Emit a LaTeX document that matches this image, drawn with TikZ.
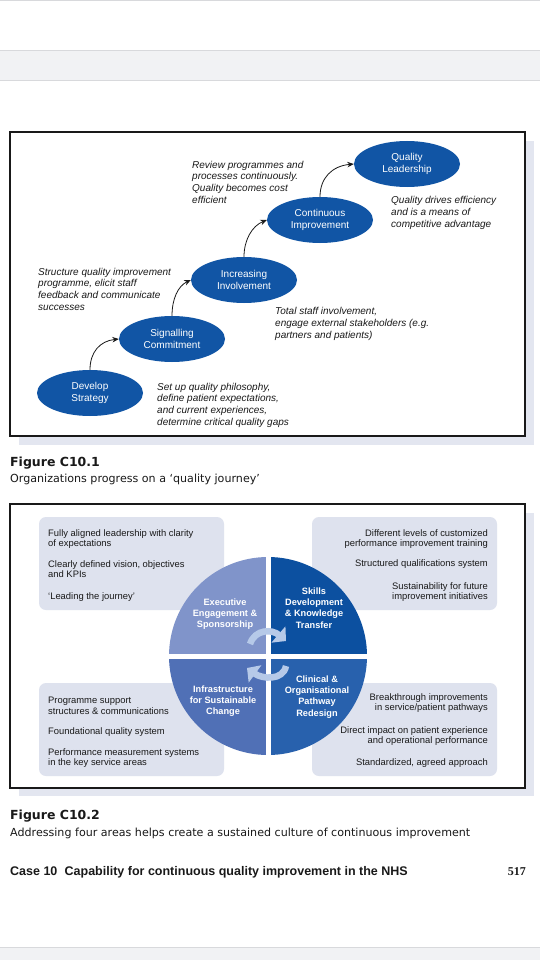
\documentclass[tikz,border=0pt]{standalone}
\usepackage{fontspec}
\setmainfont{Liberation Sans}
\newfontfamily\capfont{DejaVu Sans}
\newfontfamily\numfont{Liberation Serif}
\usetikzlibrary{shapes.geometric,arrows.meta}
\definecolor{stageblue}{RGB}{17,85,165}
\definecolor{qa}{RGB}{128,148,202}
\definecolor{qb}{RGB}{12,80,160}
\definecolor{qc}{RGB}{80,112,182}
\definecolor{qd}{RGB}{40,97,173}
\definecolor{infofill}{RGB}{222,226,238}
\definecolor{shadowc}{RGB}{227,230,240}
\definecolor{pagegray}{RGB}{241,242,244}
\definecolor{lineg}{RGB}{216,217,220}
\definecolor{arrowblue}{RGB}{182,201,232}
\definecolor{ink}{RGB}{25,25,25}
\begin{document}
\begin{tikzpicture}[x=1pt,y=-1pt,
  stage/.style={ellipse, fill=stageblue, text=white, minimum width=106pt,
    minimum height=46pt, inner sep=0pt, align=center,
    font=\fontsize{10}{11.5}\selectfont},
  note/.style={anchor=west, align=left, inner sep=0pt, text=ink,
    font=\fontsize{10}{11.7}\selectfont\itshape},
  journey/.style={-{Stealth[length=6.5pt,width=5.5pt]}, line width=0.8pt, ink},
  frame/.style={draw=ink, line width=1.2pt, fill=white},
  infobox/.style={fill=infofill, rounded corners=7pt},
  infol/.style={anchor=west, align=left, inner sep=0pt, text=ink,
    font=\fontsize{9.4}{10.6}\selectfont},
  infor/.style={anchor=east, align=right, inner sep=0pt, text=ink,
    font=\fontsize{9.4}{10.6}\selectfont},
  quadtext/.style={align=center, inner sep=0pt, text=white,
    font=\bfseries\fontsize{9.2}{11.2}\selectfont},
  loop/.style={arrowblue, line width=6.5pt, -{Triangle[length=10pt,width=21pt]}},
  capbold/.style={anchor=west, inner sep=0pt, text=ink,
    font=\capfont\bfseries\fontsize{12.5}{14}\selectfont},
  capline/.style={anchor=west, inner sep=0pt, text=ink,
    font=\capfont\fontsize{11.1}{13}\selectfont}
]
\useasboundingbox (0,0) rectangle (540,960);
% page background
\fill[white] (0,0) rectangle (540,960);
\draw[lineg, line width=1pt] (0,0.5) -- (540,0.5);
\fill[pagegray] (0,51) rectangle (540,81);
\draw[lineg, line width=1pt] (0,51) -- (540,51);
\draw[lineg, line width=1pt] (0,81) -- (540,81);
\fill[pagegray] (0,947) rectangle (540,960);
\draw[lineg, line width=1pt] (0,947) -- (540,947);

% ---------- Figure C10.1 ----------
\fill[shadowc] (19,141) rectangle (534,445);
\draw[frame] (10,132) rectangle (525,436);

\node[stage] (dev)  at (90,393)  {Develop\\Strategy};
\node[stage] (sig)  at (172,339) {Signalling\\Commitment};
\node[stage] (inc)  at (244,280) {Increasing\\Involvement};
\node[stage] (cont) at (320,220) {Continuous\\Improvement};
\node[stage] (qual) at (407,164) {Quality\\Leadership};

\draw[journey] (dev.north)  .. controls (90,352) and (100,341) .. (sig.west);
\draw[journey] (sig.north)  .. controls (172,299) and (178,286) .. (inc.west);
\draw[journey] (inc.north)  .. controls (244,240) and (252,226) .. (cont.west);
\draw[journey] (cont.north) .. controls (320,178) and (332,166) .. (qual.west);

\node[note] (n1) at (192,182) {Review programmes and\\processes continuously.\\Quality becomes cost\\efficient};
\node[note] (n2) at (391,213) {Quality drives efficiency\\and is a means of\\competitive advantage};
\node[note] (n3) at (38,289) {Structure quality improvement\\programme, elicit staff\\feedback and communicate\\successes};
\node[note] (n4) at (275,324) {Total staff involvement,\\engage external stakeholders (e.g.\\partners and patients)};
\node[note] (n5) at (157,405) {Set up quality philosophy,\\define patient expectations,\\and current experiences,\\determine critical quality gaps};

\node[capbold] (cap1) at (10,463) {Figure C10.1};
\node[capline] (cap1b) at (10,479) {Organizations progress on a ‘quality journey’};

% ---------- Figure C10.2 ----------
\fill[shadowc] (19,513) rectangle (534,796);
\draw[frame] (10,504) rectangle (525,788);

\fill[infobox] (39,517) rectangle (224,610);
\fill[infobox] (312,517) rectangle (497,610);
\fill[infobox] (39,683) rectangle (224,776);
\fill[infobox] (312,683) rectangle (497,776);

\node[infol] (tl1) at (48,539) {Fully aligned leadership with clarity\\of expectations};
\node[infol] (tl2) at (48,569) {Clearly defined vision, objectives\\and KPIs};
\node[infol] (tl3) at (48,597) {‘Leading the journey’};

\node[infor] (tr1) at (488,539) {Different levels of customized\\performance improvement training};
\node[infor] (tr2) at (488,564) {Structured qualifications system};
\node[infor] (tr3) at (488,592) {Sustainability for future\\improvement initiatives};

\node[infol] (bl1) at (48,706) {Programme support\\structures \& communications};
\node[infol] (bl2) at (48,732) {Foundational quality system};
\node[infol] (bl3) at (48,758) {Performance measurement systems\\in the key service areas};

\node[infor] (br1) at (488,703) {Breakthrough improvements\\in service/patient pathways};
\node[infor] (br2) at (488,736) {Direct impact on patient experience\\and operational performance};
\node[infor] (br3) at (488,763) {Standardized, agreed approach};

% quadrant wheel
\fill[qa] (268,656) -- (169,656) arc[start angle=180, end angle=270, radius=99] -- cycle;
\fill[qb] (268,656) -- (268,557) arc[start angle=270, end angle=360, radius=99] -- cycle;
\fill[qd] (268,656) -- (367,656) arc[start angle=0, end angle=90, radius=99] -- cycle;
\fill[qc] (268,656) -- (268,755) arc[start angle=90, end angle=180, radius=99] -- cycle;
\draw[white, line width=5pt] (268,554) -- (268,758);
\draw[white, line width=5pt] (166,656) -- (370,656);

\node[quadtext] (q1) at (225,614) {Executive\\Engagement \&\\Sponsorship};
\node[quadtext] (q2) at (314,608) {Skills\\Development\\\& Knowledge\\Transfer};
\node[quadtext] (q3) at (223,701) {Infrastructure\\for Sustainable\\Change};
\node[quadtext] (q4) at (317,697) {Clinical \&\\Organisational\\Pathway\\Redesign};

\draw[loop] (250,644) .. controls (255,629) and (272,629) .. (286,641);
\draw[loop] (286,666) .. controls (283,681) and (262,679) .. (247,668);

\node[capbold] (cap2) at (10,816) {Figure C10.2};
\node[capline] (cap2b) at (10,833) {Addressing four areas helps create a sustained culture of continuous improvement};

\node[anchor=west, inner sep=0pt, text=ink, font=\bfseries\fontsize{12.5}{14}\selectfont] (foot) at (10,872) {Case 10\hspace{0.3em} Capability for continuous quality improvement in the NHS};
\node[anchor=east, inner sep=0pt, text=ink, font=\numfont\bfseries\fontsize{12}{14}\selectfont] (pnum) at (526,872) {517};
\end{tikzpicture}
\end{document}
